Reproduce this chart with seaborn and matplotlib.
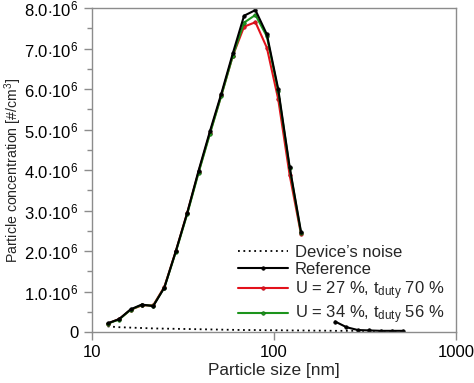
import numpy as np
import pandas as pd
import matplotlib
matplotlib.use("Agg")
import matplotlib.pyplot as plt
import seaborn as sns
from matplotlib.ticker import FixedLocator, FuncFormatter

sizes = [12.2, 14.1, 16.3, 18.8, 21.7, 25.0, 28.9, 33.4, 38.5, 44.5, 51.4, 59.4,
         68.5, 79.1, 91.4, 105.5, 121.9, 140.7, 162.5, 187.7, 216.7, 250.3,
         289.0, 333.8, 385.5, 445.1, 514.0]
segment = [1] * 18 + [2] * 9
noise = [0.14, 0.12, 0.11, 0.10, 0.09, 0.085, 0.08, 0.075, 0.07, 0.065, 0.06,
         0.055, 0.05, 0.05, 0.045, 0.045, 0.04, 0.04, 0.035, 0.035, 0.03, 0.03,
         0.03, 0.03, 0.025, 0.025, 0.025]
reference = [0.215, 0.32, 0.56, 0.68, 0.64, 1.10, 2.00, 2.95, 3.98, 4.96, 5.89,
             6.88, 7.81, 7.95, 7.35, 6.00, 4.08, 2.48, np.nan, np.nan, 0.26,
             0.12, 0.05, 0.04, 0.03, 0.03, 0.03]
u27 = [0.21, 0.32, 0.55, 0.66, 0.66, 1.12, 2.00, 2.95, 3.95, 4.92, 5.85, 6.82,
       7.54, 7.65, 7.02, 5.75, 3.88, 2.42] + [np.nan] * 9
u34 = [0.21, 0.31, 0.55, 0.67, 0.65, 1.10, 1.98, 2.92, 3.93, 4.90, 5.84, 6.82,
       7.64, 7.83, 7.30, 5.95, 4.05, 2.45] + [np.nan] * 9

labels = ["Device\u2019s noise", "Reference",
          r"U = 27 %, t$_{\mathrm{duty}}$ 70 %", r"U = 34 %, t$_{\mathrm{duty}}$ 56 %"]
yticks = [0, 1, 2, 3, 4, 5, 6, 7, 8]
xticks = [10, 100, 1000]

df = pd.DataFrame({"size": sizes, "seg": segment, "noise": noise,
                   "ref": reference, "u27": u27, "u34": u34})
for c in ["noise", "ref", "u27", "u34"]:
    df[c] = df[c] * 1e6

sns.set_style("ticks")
plt.rcParams["font.family"] = ["Liberation Sans", "DejaVu Sans"]
plt.rcParams["mathtext.fontset"] = "custom"
plt.rcParams["mathtext.rm"] = "Liberation Sans"
plt.rcParams["mathtext.it"] = "Liberation Sans"
plt.rcParams["mathtext.bf"] = "Liberation Sans"

fig = plt.figure(figsize=(4.74, 3.83), dpi=100)
ax = fig.add_axes([0.194, 0.133, 0.768, 0.846])

fs = 12
red, green = "#e3121b", "#1c941c"
sns.lineplot(data=df, x="size", y="noise", ax=ax, color="black", lw=1.3,
             linestyle=(0, (1, 2.0)), label=labels[0], estimator=None)
sns.lineplot(data=df.dropna(subset=["u27"]), x="size", y="u27", ax=ax,
             color=red, lw=1.5, marker="o", ms=2.6, mec="#b01020", mew=0.4,
             label=labels[2], estimator=None)
sns.lineplot(data=df.dropna(subset=["u34"]), x="size", y="u34", ax=ax,
             color=green, lw=1.5, marker="o", ms=2.6, mec="#106010", mew=0.4,
             label=labels[3], estimator=None)
d = df.dropna(subset=["ref"])
sns.lineplot(data=d, x="size", y="ref", units="seg", ax=ax, color="black",
             lw=1.5, marker="o", ms=2.6, mec="black", mew=0.4,
             label=labels[1], estimator=None)

ax.set_xscale("log")
ax.set_xlim(10, 1000)
ax.set_ylim(0, 8e6)
ax.xaxis.set_major_locator(FixedLocator(xticks))
ax.xaxis.set_minor_locator(FixedLocator([]))
ax.xaxis.set_major_formatter(FuncFormatter(lambda v, p: f"{v:g}"))
ax.yaxis.set_major_locator(FixedLocator([t * 1e6 for t in yticks]))
ax.yaxis.set_minor_locator(FixedLocator([(t + 0.5) * 1e6 for t in yticks[:-1]]))


def yfmt(v, p):
    n = v / 1e6
    if abs(n) < 1e-9:
        return "0"
    return r"$%.1f{\cdot}10^{6}$" % n


ax.yaxis.set_major_formatter(FuncFormatter(yfmt))
for s in ax.spines.values():
    s.set_color("#8c8c8c")
    s.set_linewidth(1.0)
ax.tick_params(which="major", direction="out", length=6, width=1.0,
               color="#8c8c8c", labelsize=fs, labelcolor="black")
ax.tick_params(which="minor", direction="out", length=3.5, width=1.0,
               color="#8c8c8c")
ax.set_xlabel("Particle size [nm]", fontsize=12.4, labelpad=2)
ax.set_ylabel("Particle concentration [#/cm$^{3}$]", fontsize=10.2)
ax.yaxis.set_label_coords(-0.188, 0.5)

h, l = ax.get_legend_handles_labels()
order = [l.index(x) for x in labels]
ax.legend([h[i] for i in order], [l[i] for i in order], loc="lower right",
          bbox_to_anchor=(1.0, -0.018), frameon=False, fontsize=fs,
          handlelength=3.0, handletextpad=0.4, labelspacing=0.12,
          borderaxespad=0.3, numpoints=1)

fig.savefig("out.png", dpi=100)
